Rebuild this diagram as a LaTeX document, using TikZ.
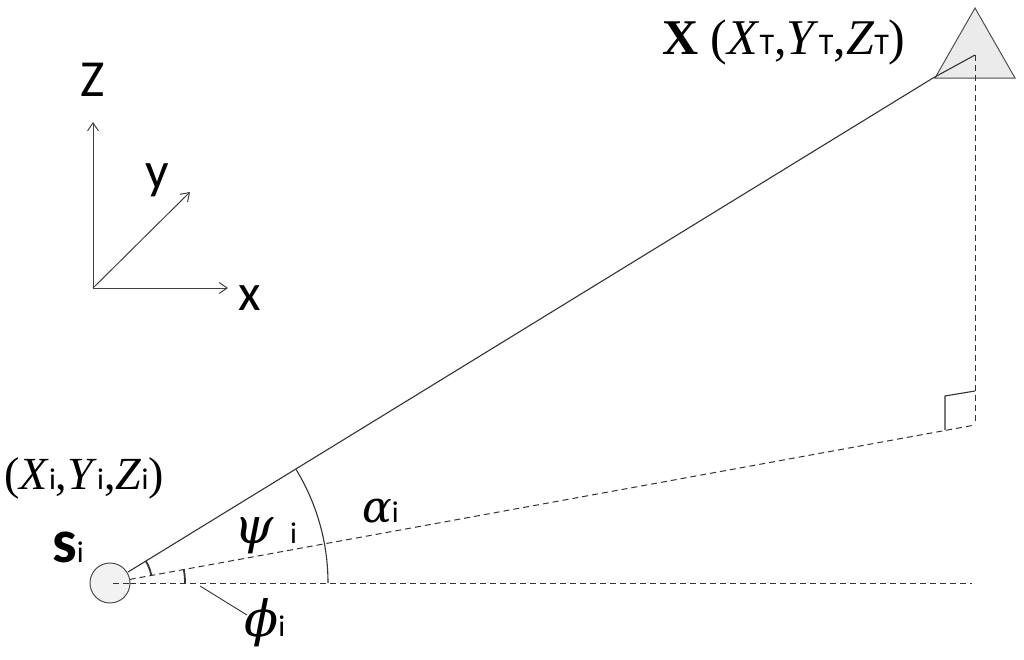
\documentclass[tikz,border=0pt]{standalone}
\usepackage{fontspec}
\setmainfont{Carlito}
\newfontfamily\tms{Liberation Serif}
\newfontfamily\grk{DejaVu Serif}
\usetikzlibrary{arrows.meta}
\newcommand{\sbs}[1]{{\fontsize{30}{30}\selectfont\normalfont\mdseries\upshape #1}}
\begin{document}
\begin{tikzpicture}[x=1pt,y=-1pt,
  ln/.style={draw=black!80,line width=1.1pt},
  dl/.style={draw=black!80,line width=1pt,dash pattern=on 6pt off 4pt},
  ax/.style={draw=black!75,line width=1pt,-{Straight Barb[length=8pt,width=11pt]}},
  lbl/.style={inner sep=0pt,font=\fontsize{52}{52}\selectfont}]
\useasboundingbox (0,0) rectangle (1024,659);
% axes
\coordinate (O) at (93,288);
\coordinate (Zt) at (93,122);
\coordinate (Xt) at (228,288);
\coordinate (Yt) at (190,192);
\draw[ax] (O) -- (Zt);
\draw[ax] (O) -- (Xt);
\draw[ax] (O) -- (Yt);
\node[lbl] (zl) at (93,80) {Z};
\node[lbl] (yl) at (157,180) {y};
\node[lbl] (xl) at (250,298) {x};
% geometry
\coordinate (S) at (110,583);
\coordinate (T) at (975,55);
\coordinate (B) at (933,78);
\coordinate (F) at (975,425);
\coordinate (H) at (972,583);
\draw[dl] (S) -- (F);
\draw[dl] (S) -- (H);
\node[draw=black!70,fill=black!5,circle,minimum size=40pt,inner sep=0pt,line width=1pt] (sc) at (S) {};
\draw[dl] (113,583) -- (135,583);
\draw[draw=black!70,fill=black!8,line width=1pt] (975,8) -- (1015,78) -- (935,78) -- cycle;
\draw[ln] (128,572) -- (B) -- (T);
\draw[dl] (T) -- (F);
\draw[ln] (945,430) -- (945,396) -- (975,391);
% angle arcs
\draw[ln] (S) ++(-31.4:218) arc[start angle=-31.4,end angle=0,radius=218];
\draw[ln,line width=1.8pt] (S) ++(-31.4:42) arc[start angle=-31.4,end angle=-10.35,radius=42];
\draw[ln,line width=1.8pt] (S) ++(-10.35:75) arc[start angle=-10.35,end angle=0,radius=75];
\coordinate (L1) at (200,586);
\coordinate (L2) at (247,615);
\draw[draw=black!80,line width=0.9pt] (L1) -- (L2);
% labels
\node[inner sep=0pt,anchor=west,font=\fontsize{46}{46}\selectfont] (si) at (4,478)
  {\tms(\textit{X}\sbs{i},\textit{Y}\sbs{i},\textit{Z}\sbs{i})};
\node[inner sep=0pt,anchor=base west,font=\fontsize{62}{62}\selectfont\bfseries] (sl) at (52,562) {s\sbs{i}};
\node[inner sep=0pt,anchor=base west,font=\fontsize{50}{50}\selectfont] (psi) at (234,543) {\grk\itshape ψ\,\,\sbs{i}};
\node[inner sep=0pt,anchor=base west,font=\fontsize{44}{44}\selectfont] (al) at (362,522) {\grk\itshape α\sbs{i}};
\node[inner sep=0pt,anchor=base west,font=\fontsize{50}{50}\selectfont] (ph) at (244,636) {\grk\itshape ϕ\sbs{i}};
\node[inner sep=0pt,anchor=west,font=\fontsize{50}{50}\selectfont] (xl2) at (662,42)
  {\tms\textbf{X} (\textit{X}\sbs{T},\textit{Y}\sbs{T},\textit{Z}\sbs{T})};
\end{tikzpicture}
\end{document}
